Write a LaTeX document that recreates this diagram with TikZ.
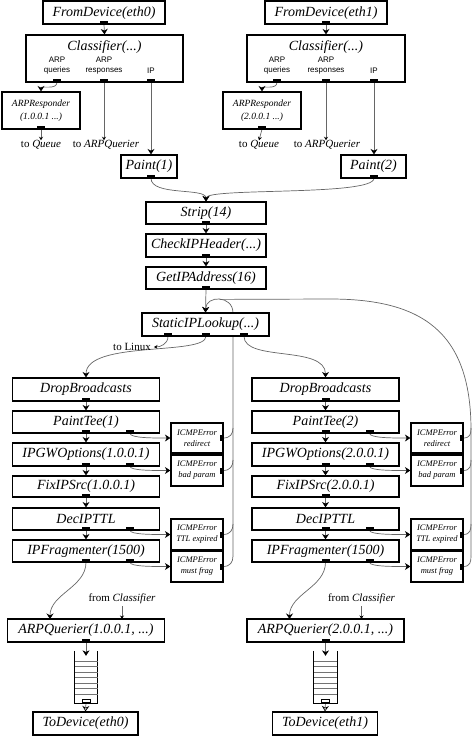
\documentclass[tikz,border=0pt]{standalone}
\usepackage{fontspec}
\setmainfont{Liberation Serif}
\setsansfont{Liberation Sans}
\usetikzlibrary{arrows.meta,calc}
\pgfdeclarelayer{bg}
\pgfsetlayers{bg,main}
\tikzset{
  box/.style={draw, fill=white, line width=1.2pt, inner sep=0pt, font=\itshape\fontsize{14}{14}\selectfont},
  sbox/.style={box, align=center, font=\itshape\fontsize{9.5}{12.5}\selectfont},
  ebox/.style={box, align=center, font=\itshape\fontsize{8.5}{11}\selectfont},
  port/.style={fill=black, inner sep=0pt, minimum width=8pt, minimum height=3.5pt},
  vport/.style={fill=black, inner sep=0pt, minimum width=3pt, minimum height=6pt},
  pullport/.style={draw=black, fill=white, line width=0.5pt, inner sep=0pt, minimum width=8pt, minimum height=3.5pt},
  wire/.style={draw=black!60, line width=0.7pt},
  conn/.style={wire, -{Stealth[length=5.5pt,width=7pt,color=black]}},
  sconn/.style={wire, -{Stealth[length=3.5pt,width=4pt,color=black]}},
  pconn/.style={wire, -{Stealth[length=5.5pt,width=7pt,color=black,fill=white]}},
  lbl/.style={inner sep=0pt, font=\fontsize{11}{11}\selectfont},
  hdr/.style={inner sep=0pt, font=\itshape\fontsize{14}{14}\selectfont},
  clab/.style={inner sep=0pt, align=center, font=\sffamily\fontsize{8}{10}\selectfont},
}
\newcommand\clickbox[7][box]{\node[#1, minimum width={(#5)-(#3)}, minimum height={(#6)-(#4)}] (#2) at ({((#3)+(#5))/2},{((#4)+(#6))/2}) {#7};}
\begin{document}
\begin{tikzpicture}[x=1pt,y=-1pt]
\useasboundingbox (0,0) rectangle (474,736);
% ---------- top left ----------
\clickbox{fdL}{43}{1.5}{165}{24}{FromDevice(eth0)}
\draw[line width=2.5pt] (fdL.north west) -- (fdL.north east);
\clickbox{clL}{26}{35}{183}{82}{}
\node[hdr] (clLt) at (104.5,47) {Classifier(...)};
\node[clab] (clLa) at (57,66) {ARP\\queries};
\node[clab] (clLb) at (104,66) {ARP\\responses};
\node[clab] (clLc) at (151,71) {IP};
\clickbox[sbox]{arL}{2}{92}{80}{129}{ARPResponder\\(1.0.0.1 ...)}
\node[lbl] (tqL) at (41,145) {to \textit{Queue}};
\node[lbl] (taL) at (106,145) {to \textit{ARPQuerier}};
\clickbox{paL}{121}{155}{177}{178}{Paint(1)}
\node[port] (fdLo) at (104,22.3) {};
\node[port] (clLpa) at (57,80.3) {};
\node[port] (clLpb) at (104,80.3) {};
\node[port] (clLpc) at (151,80.3) {};
\node[port] (arLo) at (41,127.3) {};
\node[port] (paLo) at (151,176.3) {};
% ---------- top right ----------
\clickbox{fdR}{265}{1.5}{387}{24}{FromDevice(eth1)}
\draw[line width=2.5pt] (fdR.north west) -- (fdR.north east);
\clickbox{clR}{247}{35}{405}{82}{}
\node[hdr] (clRt) at (326,47) {Classifier(...)};
\node[clab] (clRa) at (277,66) {ARP\\queries};
\node[clab] (clRb) at (326,66) {ARP\\responses};
\node[clab] (clRc) at (374,71) {IP};
\clickbox[sbox]{arR}{223}{92}{301}{129}{ARPResponder\\(2.0.0.1 ...)}
\node[lbl] (tqR) at (259,145) {to \textit{Queue}};
\node[lbl] (taR) at (327,145) {to \textit{ARPQuerier}};
\clickbox{paR}{341}{155}{406}{178}{Paint(2)}
\node[port] (fdRo) at (326,22.3) {};
\node[port] (clRpa) at (277,80.3) {};
\node[port] (clRpb) at (326,80.3) {};
\node[port] (clRpc) at (374,80.3) {};
\node[port] (arRo) at (262,127.3) {};
\node[port] (paRo) at (374,176.3) {};
% ---------- middle ----------
\clickbox{st}{146}{202}{266}{224}{Strip(14)}
\clickbox{ch}{146}{234}{266}{257}{CheckIPHeader(...)}
\clickbox{gi}{146}{267}{266}{289}{GetIPAddress(16)}
\clickbox{sl}{142}{313}{269}{336}{StaticIPLookup(...)}
\node[lbl] (tl) at (132,347) {to Linux};
\node[port] (sto) at (206,222.3) {};
\node[port] (cho) at (206,255.3) {};
\node[port] (gio) at (206,287.3) {};
\node[port] (slo1) at (168,334.3) {};
\node[port] (slo2) at (206,334.3) {};
\node[port] (slo3) at (244,334.3) {};
\coordinate (lpeak) at (219.5,299.4);
\coordinate (busLtop) at (233,313);
\coordinate (busRtop) at (471,430);
\coordinate (bend) at (330,299);
% ---------- columns ----------
\foreach \s/\cx/\ip/\n/\eth/\ex/\bx in {L/86/1.0.0.1/1/0/171/233, R/325.5/2.0.0.1/2/1/411/471}{
  \clickbox{db\s}{\cx-73.5}{378}{\cx+73.5}{401}{DropBroadcasts}
  \clickbox{pt\s}{\cx-73.5}{411}{\cx+73.5}{433}{PaintTee(\n)}
  \clickbox{gw\s}{\cx-73.5}{443}{\cx+73.5}{466}{IPGWOptions(\ip)}
  \clickbox{fx\s}{\cx-73.5}{476}{\cx+73.5}{497}{FixIPSrc(\ip)}
  \clickbox{dt\s}{\cx-73.5}{508}{\cx+73.5}{530}{DecIPTTL}
  \clickbox{fr\s}{\cx-73.5}{540}{\cx+73.5}{562}{IPFragmenter(1500)}
  \clickbox[ebox]{ea\s}{\ex}{423}{\ex+52}{453}{ICMPError\\redirect}
  \clickbox[ebox]{eb\s}{\ex}{455}{\ex+52}{486}{ICMPError\\bad param}
  \clickbox[ebox]{ec\s}{\ex}{519}{\ex+52}{550}{ICMPError\\TTL expired}
  \clickbox[ebox]{ed\s}{\ex}{551}{\ex+52}{582}{ICMPError\\must frag}
  \node[lbl] (fc\s) at ({\cx+36},599) {from \textit{Classifier}};
  \clickbox{aq\s}{\cx-78.5}{619}{\cx+78.5}{642}{ARPQuerier(\ip, ...)}
  \node[inner sep=0pt, minimum width=23pt, minimum height=52pt] (qu\s) at (\cx,677) {};
  \clickbox{td\s}{\cx-53}{712}{\cx+52}{735}{ToDevice(eth\eth)}
  \draw[line width=2.5pt] (td\s.south west) -- (td\s.south east);
  % queue
  \draw[line width=1.2pt] (qu\s.north west) -- (qu\s.south west) -- (qu\s.south east) -- (qu\s.north east);
  \foreach \k in {0,...,6}{
    \draw[black!55, line width=0.6pt] ({\cx-11.5},{661+\k*5.5}) -- ({\cx+11.5},{661+\k*5.5});
  }
  % ports
  \node[port] (dbo\s) at (\cx,399.3) {};
  \node[port] (pto1\s) at (\cx,431.3) {};
  \node[port] (pto2\s) at ({\cx+44},431.3) {};
  \node[port] (gwo1\s) at (\cx,464.3) {};
  \node[port] (gwo2\s) at ({\cx+44},464.3) {};
  \node[port] (fxo\s) at (\cx,495.3) {};
  \node[port] (dto1\s) at (\cx,528.3) {};
  \node[port] (dto2\s) at ({\cx+44},528.3) {};
  \node[port] (fro1\s) at (\cx,560.3) {};
  \node[port] (fro2\s) at ({\cx+44},560.3) {};
  \node[vport] (eao\s) at ({\ex+50.5},438) {};
  \node[vport] (ebo\s) at ({\ex+50.5},470.5) {};
  \node[vport] (eco\s) at ({\ex+50.5},534.5) {};
  \node[vport] (edo\s) at ({\ex+50.5},566.5) {};
  \node[port] (aqo\s) at (\cx,640.3) {};
  \node[pullport] (quo\s) at (\cx,700.5) {};
  \coordinate (aqi1\s) at ({\cx-36},619);
  \coordinate (aqi2\s) at ({\cx+36},619);
  \coordinate (ja\s) at (\bx,428);
  \coordinate (jb\s) at (\bx,460);
  \coordinate (jc\s) at (\bx,524);
  \coordinate (bus\s) at (\bx,556);
  \begin{pgfonlayer}{bg}
    \draw[conn] (dbo\s.south) -- (pt\s.north);
    \draw[conn] (pto1\s.south) -- (gw\s.north);
    \draw[conn] (gwo1\s.south) -- (fx\s.north);
    \draw[conn] (fxo\s.south) -- (dt\s.north);
    \draw[conn] (dto1\s.south) -- (fr\s.north);
    \draw[conn] (pto2\s.south) .. controls +(0,5) and +(-16,0) .. (ea\s.west);
    \draw[conn] (gwo2\s.south) .. controls +(0,4.5) and +(-16,0) .. (eb\s.west);
    \draw[conn] (dto2\s.south) .. controls +(0,4.5) and +(-16,0) .. (ec\s.west);
    \draw[conn] (fro2\s.south) .. controls +(0,4.5) and +(-16,0) .. (ed\s.west);
    \draw[wire] (eao\s.east) .. controls +(7,0) and +(0,6) .. (ja\s);
    \draw[wire] (ebo\s.east) .. controls +(7,0) and +(0,6) .. (jb\s);
    \draw[wire] (eco\s.east) .. controls +(7,0) and +(0,6) .. (jc\s);
    \draw[wire] (edo\s.east) .. controls +(7,0) and +(0,6) .. (bus\s);
    \draw[conn] (fro1\s.south) .. controls +(0,25) and +(0,-25) .. (aqi1\s);
    \draw[sconn] ([yshift=-2pt]fc\s.south) -- (aqi2\s);
    \draw[conn] (aqo\s.south) -- ([yshift=-5pt]qu\s.north);
    \draw[pconn] (quo\s.south) -- (td\s.north);
  \end{pgfonlayer}
}
% ---------- connectors ----------
\begin{pgfonlayer}{bg}
\draw[conn] (fdLo.south) -- (clL.north);
\draw[conn] (clLpa.south) .. controls +(0,8) and +(0,-6) .. (arL.north);
\draw[sconn] (clLpb.south) -- (clLpb |- taL.north);
\draw[sconn] (arLo.south) -- (tqL.north);
\draw[conn] (clLpc.south) -- (clLpc |- paL.north);
\draw[conn] (fdRo.south) -- (clR.north);
\draw[conn] (clRpa.south) .. controls +(0,8) and +(0,-6) .. (arR.north);
\draw[sconn] (clRpb.south) -- (clRpb |- taR.north);
\draw[sconn] (arRo.south) -- (tqR.north);
\draw[conn] (clRpc.south) -- (clRpc |- paR.north);
\draw[conn] (paLo.south) .. controls +(0,18) and +(0,-14) .. (st.north);
\draw[conn] (paRo.south) .. controls +(0,18) and +(0,-14) .. (st.north);
\draw[conn] (sto.south) -- (ch.north);
\draw[conn] (cho.south) -- (gi.north);
\draw[conn] (gio.south) -- (sl.north);
\draw[sconn] (slo1.south) .. controls +(0,8) and +(6,0) .. ([xshift=3pt]tl.east);
\draw[conn] (slo2.south) .. controls (206,356) and (86,340) .. (dbL.north);
\draw[conn] (slo3.south) .. controls (244,362) and (325.5,345) .. (dbR.north);
\draw[conn] (busL) -- (busLtop) .. controls (233,295) and (206,295) .. (sl.north);
\draw[wire] (busR) -- (busRtop) .. controls (471,330) and (420,299) .. (bend) -- (lpeak);
\end{pgfonlayer}
\end{tikzpicture}
\end{document}
